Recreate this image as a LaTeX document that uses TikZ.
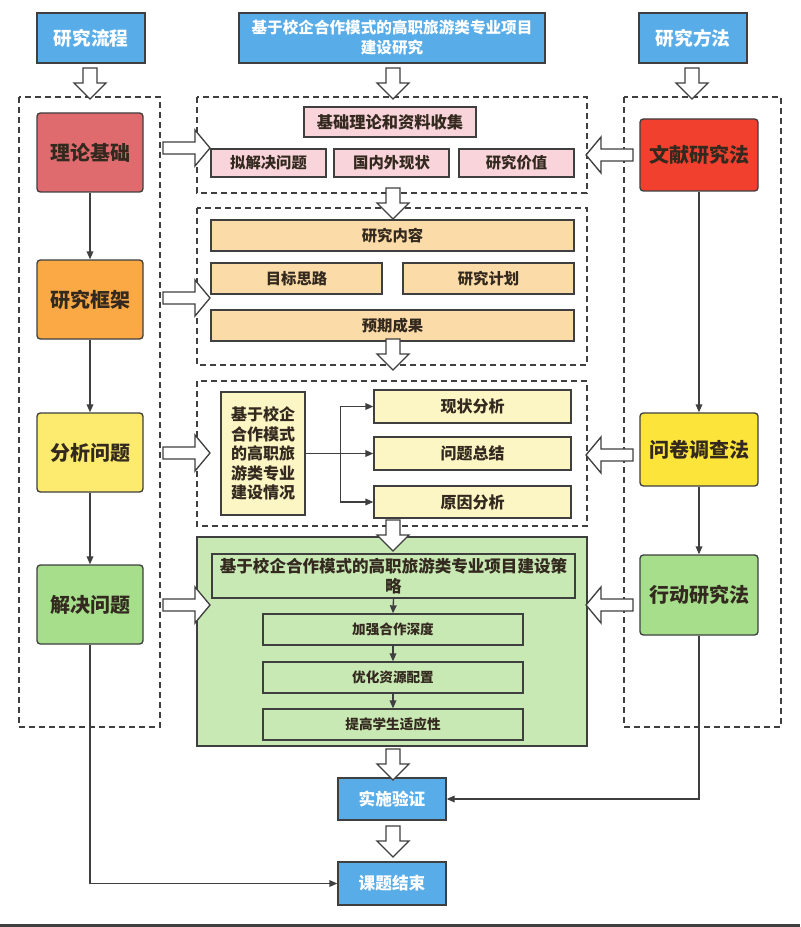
\documentclass[tikz,border=0pt]{standalone}
\usepackage{fontspec}
\setmainfont{Noto Sans CJK SC}
\usetikzlibrary{arrows.meta,calc}
\definecolor{edge}{HTML}{3F3F3F}
\definecolor{txt}{HTML}{33291F}
\definecolor{cblue}{HTML}{58ACE8}
\definecolor{cred}{HTML}{E06B6E}
\definecolor{corange}{HTML}{FBA945}
\definecolor{cyellow}{HTML}{FCEB6E}
\definecolor{cgreen}{HTML}{A6DE8C}
\definecolor{cred2}{HTML}{F2402E}
\definecolor{cyellow2}{HTML}{FCE43A}
\definecolor{cpink}{HTML}{F9D4DA}
\definecolor{cpeach}{HTML}{FBDBA7}
\definecolor{clight}{HTML}{FBF6C3}
\definecolor{cpanel}{HTML}{C8E8B4}
\newcommand\mybox[7]{\node[#6, minimum width={(#4-#2)*0.75pt}, minimum height={(#5-#3)*0.75pt}] (#1) at ({(#2+#4)/2},{(#3+#5)/2}) {#7};}
\begin{document}
\begin{tikzpicture}[x=0.75pt,y=-0.75pt,
  box/.style={draw=edge, line width=1pt, inner sep=0pt, align=center, text=txt, font=\bfseries},
  bluebox/.style={box, fill=cblue, text=white},
  side/.style={box, rounded corners=2.5pt, font=\fontsize{15}{18}\selectfont\bfseries},
  mid/.style={box, font=\fontsize{11.5}{14}\selectfont\bfseries},
  dbox/.style={draw=edge, line width=1pt, dash pattern=on 4.5pt off 3pt},
  conn/.style={draw=edge, line width=1pt, -{Triangle[length=6pt,width=5pt]}},
  harr/.style={draw=edge, fill=white, line width=1pt, line join=miter},
  hdown/.pic={\draw[harr] (-7,0)--(7,0)--(7,15)--(16,15)--(0,31)--(-16,15)--(-7,15)--cycle;},
  hright/.pic={\draw[harr] (0,-6)--(32,-6)--(32,-18)--(47,0)--(32,18)--(32,6)--(0,6)--cycle;},
  hleft/.pic={\draw[harr] (0,-6)--(-32,-6)--(-32,-18)--(-47,0)--(-32,18)--(-32,6)--(0,6)--cycle;},
]
\useasboundingbox (0,0) rectangle (800,927);
\fill[white] (0,0) rectangle (800,927);
\fill[black!75] (0,924) rectangle (800,927);

% dashed frames and panel
\draw[dbox] (19,97) rectangle (160,727);
\draw[dbox] (624,97) rectangle (781,727);
\draw[dbox] (197,97) rectangle (587,193);
\draw[dbox] (197,208) rectangle (587,365);
\draw[dbox] (197,381) rectangle (587,526);
\mybox{panel}{197}{537}{587}{746}{box, fill=cpanel}{}

% top blue boxes
\mybox{flow}{37}{13}{145}{63}{bluebox, font=\fontsize{14}{17}\selectfont\bfseries}{研究流程}
\mybox{title}{239}{13}{545}{63}{bluebox, font=\fontsize{11.7}{15}\selectfont\bfseries}{基于校企合作模式的高职旅游类专业项目\\建设研究}
\mybox{method}{639}{13}{747}{63}{bluebox, font=\fontsize{14}{17}\selectfont\bfseries}{研究方法}

% left column
\mybox{l1}{37}{113}{143}{192}{side, fill=cred}{理论基础}
\mybox{l2}{37}{260}{143}{339}{side, fill=corange}{研究框架}
\mybox{l3}{37}{413}{143}{492}{side, fill=cyellow}{分析问题}
\mybox{l4}{37}{565}{143}{644}{side, fill=cgreen}{解决问题}

% right column
\mybox{r1}{640}{119}{758}{191}{side, fill=cred2}{文献研究法}
\mybox{r2}{640}{413}{758}{486}{side, fill=cyellow2}{问卷调查法}
\mybox{r3}{640}{555}{758}{635}{side, fill=cgreen}{行动研究法}

% box 1
\mybox{b1}{304}{107}{476}{137}{mid, fill=cpink, font=\fontsize{12.2}{14}\selectfont\bfseries}{基础理论和资料收集}
\mybox{b2}{211}{149}{326}{177}{mid, fill=cpink}{拟解决问题}
\mybox{b3}{334}{149}{449}{177}{mid, fill=cpink}{国内外现状}
\mybox{b4}{459}{149}{574}{177}{mid, fill=cpink}{研究价值}

% box 2
\mybox{c1}{211}{220}{574}{251}{mid, fill=cpeach}{研究内容}
\mybox{c2}{211}{263}{382}{294}{mid, fill=cpeach}{目标思路}
\mybox{c3}{403}{263}{574}{294}{mid, fill=cpeach}{研究计划}
\mybox{c4}{211}{310}{574}{341}{mid, fill=cpeach}{预期成果}

% box 3
\mybox{situ}{221}{392}{305}{515}{mid, fill=clight, font=\fontsize{12}{14.7}\selectfont\bfseries}{基于校企\\合作模式\\的高职旅\\游类专业\\建设情况}
\mybox{d1}{374}{390}{571}{423}{mid, fill=clight, font=\fontsize{12}{14}\selectfont\bfseries}{现状分析}
\mybox{d2}{374}{437}{571}{470}{mid, fill=clight, font=\fontsize{12}{14}\selectfont\bfseries}{问题总结}
\mybox{d3}{374}{486}{571}{518}{mid, fill=clight, font=\fontsize{12}{14}\selectfont\bfseries}{原因分析}
\coordinate (br) at ($(situ.east)+(35,0)$);
\draw[draw=edge, line width=1pt] (situ.east) -- (br);
\draw[conn] (br) |- (d1.west);
\draw[conn] (br) |- (d2.west);
\draw[conn] (br) |- (d3.west);

% green panel
\mybox{s0}{212}{554}{575}{598}{mid, fill=cpanel, font=\fontsize{12.4}{15}\selectfont\bfseries}{基于校企合作模式的高职旅游类专业项目建设策\\略}
\mybox{s1}{263}{614}{523}{645}{mid, fill=cpanel, font=\fontsize{10.2}{12}\selectfont\bfseries}{加强合作深度}
\mybox{s2}{263}{662}{523}{693}{mid, fill=cpanel, font=\fontsize{10.2}{12}\selectfont\bfseries}{优化资源配置}
\mybox{s3}{263}{709}{523}{740}{mid, fill=cpanel, font=\fontsize{10.2}{12}\selectfont\bfseries}{提高学生适应性}
\draw[conn] (s0.south) -- (s1.north);
\draw[conn] (s1.south) -- (s2.north);
\draw[conn] (s2.south) -- (s3.north);

% bottom
\mybox{verify}{338}{778}{446}{820}{bluebox, font=\fontsize{12.5}{15}\selectfont\bfseries}{实施验证}
\mybox{finish}{338}{862}{446}{905}{bluebox, font=\fontsize{12.5}{15}\selectfont\bfseries}{课题结束}

% column connectors
\draw[conn] (l1.south) -- (l2.north);
\draw[conn] (l2.south) -- (l3.north);
\draw[conn] (l3.south) -- (l4.north);
\draw[conn] (r1.south) -- (r2.north);
\draw[conn] (r2.south) -- (r3.north);
\draw[conn] (l4.south) |- (finish.west);
\draw[conn] (r3.south) |- (verify.east);

% hollow arrows
\pic at (90,68) {hdown};
\pic at (393,68) {hdown};
\pic at (692,68) {hdown};
\pic at (393,188) {hdown};
\pic at (393,339) {hdown};
\pic at (393,520) {hdown};
\pic at (393,749) {hdown};
\pic at (393,826) {hdown};
\pic at (163,148) {hright};
\pic at (163,298) {hright};
\pic at (163,453) {hright};
\pic at (163,605) {hright};
\pic at (633,155) {hleft};
\pic at (633,455) {hleft};
\pic at (633,605) {hleft};
\end{tikzpicture}
\end{document}
